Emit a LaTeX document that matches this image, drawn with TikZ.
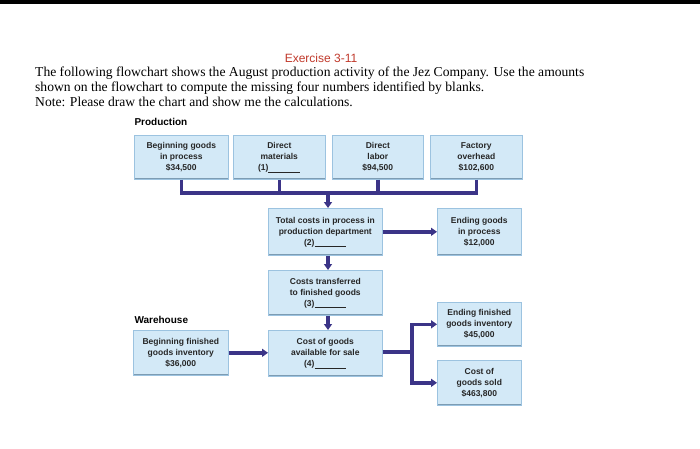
\documentclass[tikz,border=0pt]{standalone}
\usepackage{fontspec}
\setmainfont{Liberation Serif}
\newfontfamily\sansf{Liberation Sans}
\usetikzlibrary{arrows.meta}
\definecolor{boxfill}{HTML}{D3E9F7}
\definecolor{boxedge}{HTML}{9CC3E0}
\definecolor{conn}{HTML}{3B3487}
\definecolor{titlered}{HTML}{C0392B}
\tikzset{
  fbox/.style={draw=boxedge, line width=0.6pt, fill=boxfill, minimum height=44pt, inner sep=1pt,
    align=center, font=\sansf\bfseries\fontsize{8.5}{11}\selectfont, text=black!85, anchor=north west,
    path picture={\draw[boxedge!80!black, line width=3pt] (path picture bounding box.south west) -- (path picture bounding box.south east);}},
  conline/.style={draw=conn, line width=3.4pt},
  conarrow/.style={conline, -{Triangle[length=6pt,width=8pt]}},
  head/.style={font=\sansf\bfseries\fontsize{10}{12}\selectfont, anchor=west},
  para/.style={font=\fontsize{13.6}{15}\selectfont, anchor=north west, align=left, inner sep=0pt}
}
\newcommand{\blank}{\rule[-1.5pt]{32pt}{0.5pt}}
\begin{document}
\begin{tikzpicture}[x=1pt,y=-1pt]
\useasboundingbox (0,0) rectangle (700,448);
\fill[black] (0,0) rectangle (700,4);
\node[font=\sansf\fontsize{12}{14}\selectfont, text=titlered] (title) at (321,58) {Exercise 3-11};
\node[para] (txt) at (35,67) {The following flowchart shows the August production activity of the Jez Company. Use the amounts\\
shown on the flowchart to compute the missing four numbers identified by blanks.\\
Note: Please draw the chart and show me the calculations.};
\node[head] (prod) at (131,122) {Production};
\node[head] (ware) at (131,320) {Warehouse};
\node[fbox, minimum width=94pt] (b1) at (134,135) {Beginning goods\\in process\\\$34,500};
\node[fbox, minimum width=92pt] (b2) at (233,135) {Direct\\materials\\(1)\blank};
\node[fbox, minimum width=91pt] (b3) at (332,135) {Direct\\labor\\\$94,500};
\node[fbox, minimum width=92pt] (b4) at (430,135) {Factory\\overhead\\\$102,600};
\node[fbox, minimum width=114pt, minimum height=47pt] (tot) at (268,208) {Total costs in process in\\production department\\(2)\blank};
\node[fbox, minimum width=84pt, minimum height=47pt] (egp) at (437,208) {Ending goods\\in process\\\$12,000};
\node[fbox, minimum width=114pt, minimum height=45pt] (ctf) at (268,270) {Costs transferred\\to finished goods\\(3)\blank};
\node[fbox, minimum width=114pt, minimum height=46pt] (cga) at (268,330) {Cost of goods\\available for sale\\(4)\blank};
\node[fbox, minimum width=95pt, minimum height=45pt] (bfg) at (133,330) {Beginning finished\\goods inventory\\\$36,000};
\node[fbox, minimum width=84pt] (efg) at (437,302) {Ending finished\\goods inventory\\\$45,000};
\node[fbox, minimum width=84pt, minimum height=45pt] (cgs) at (437,360) {Cost of\\goods sold\\\$463,800};
\coordinate (bus) at (328,193);
\foreach \b in {b1,b2,b3,b4}{\draw[conline] (\b.south) -- (\b.south |- bus);}
\draw[conline, line cap=rect] (b1.south |- bus) -- (b4.south |- bus);
\draw[conarrow] (bus) -- (tot.north -| bus);
\draw[conarrow] (tot.east) -- (egp.west);
\draw[conarrow] (tot.south -| bus) -- (ctf.north -| bus);
\draw[conarrow] (ctf.south -| bus) -- (cga.north -| bus);
\draw[conarrow] (bfg.east) -- (bfg.east -| cga.west);
\coordinate (fork) at (412,352);
\draw[conline] (cga.east |- fork) -- (fork);
\draw[conarrow] (fork) |- (efg.west);
\draw[conarrow] (fork) |- (cgs.west);
\end{tikzpicture}
\end{document}
